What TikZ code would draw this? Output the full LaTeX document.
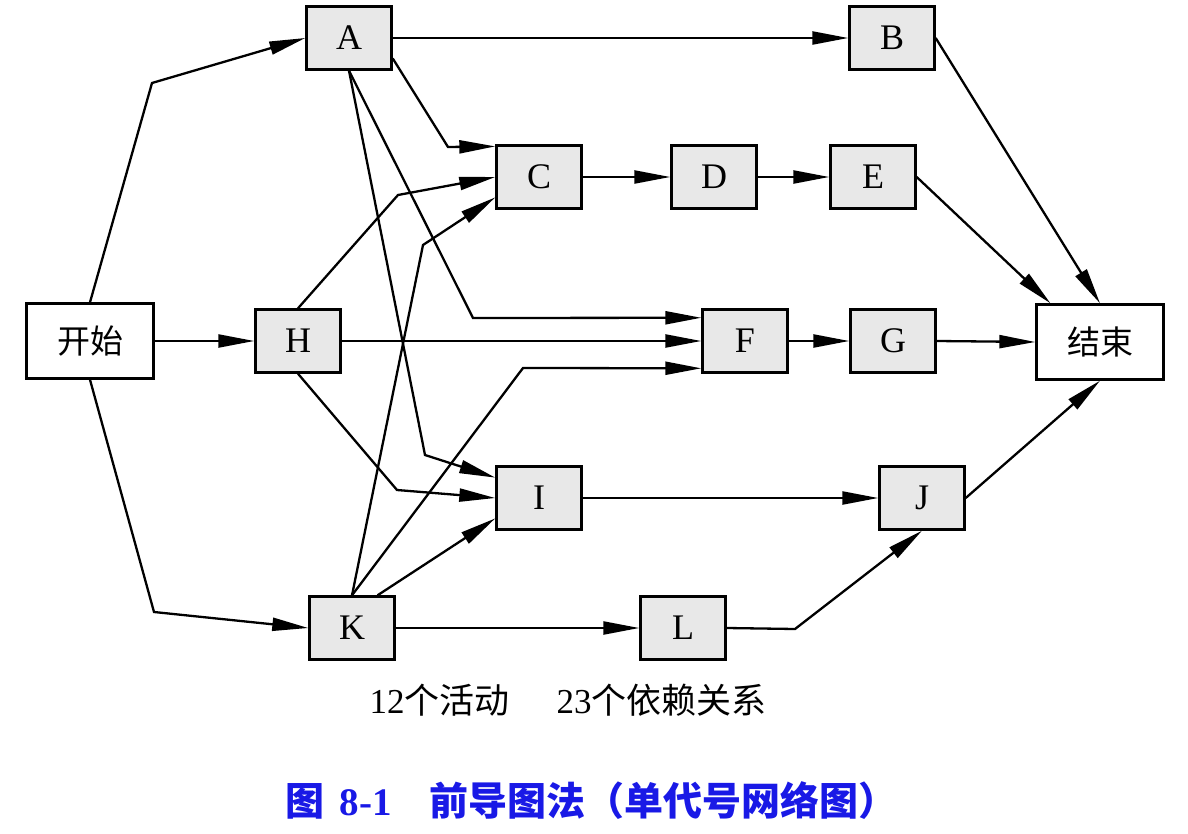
\documentclass[tikz,border=0pt]{standalone}
\usepackage{fontspec}
\setmainfont{Liberation Serif}
\newfontfamily\cjk{Noto Sans CJK SC}
\usetikzlibrary{arrows.meta}
\definecolor{capblue}{RGB}{25,25,230}

\begin{document}
\begin{tikzpicture}[x=1pt, y=-1pt, >={Triangle[length=36pt, width=13pt]},
    task/.style={draw, line width=2.4pt, fill=black!9, minimum width=85pt,
      minimum height=63pt, inner sep=0pt, font=\fontsize{36}{40}\selectfont},
    terminal/.style={draw, line width=2.4pt, fill=white, minimum width=127pt,
      minimum height=75pt, inner sep=0pt, font=\cjk\fontsize{33}{36}\selectfont},
    link/.style={line width=2.3pt, ->}]
  \useasboundingbox (0,0) rectangle (1188,834);

  \node (start) at (90,341) [terminal] {开始};
  \node (end) at (1100,342) [terminal] {结束};
  \node (A) at (349,38) [task] {A};
  \node (B) at (892,38) [task] {B};
  \node (C) at (539,177) [task] {C};
  \node (D) at (714,177) [task] {D};
  \node (E) at (873,177) [task] {E};
  \node (H) at (298,341) [task] {H};
  \node (F) at (745,341) [task] {F};
  \node (G) at (893,341) [task] {G};
  \node (I) at (539,498) [task] {I};
  \node (J) at (922,498) [task] {J};
  \node (K) at (352,628) [task] {K};
  \node (L) at (683,628) [task] {L};

  \draw [link] (start.north) -- (152,83) -- (A.west);
  \draw [link] (start.east) -- (H.west);
  \draw [link] (start.south) -- (154,612) -- (K.west);
  \draw [link] (A.east) -- (B.west);
  \draw [link] (A.-25) -- (448,147) -- (C.145);
  \draw [link] (A.south) -- (473,318) -- (F.152);
  \draw [link] (A.south) -- (425,455) -- (I.155);
  \draw [link] (H.north) -- (398,195) -- (C.west);
  \draw [link] (H.east) -- (F.west);
  \draw [link] (H.south) -- (397,490) -- (I.west);
  \draw [link] (K.north) -- (423,245) -- (C.205);
  \draw [link] (K.north) -- (523,368) -- (F.212);
  \draw [link] (K.52) -- (I.205);
  \draw [link] (K.east) -- (L.west);
  \draw [link] (C.east) -- (D.west);
  \draw [link] (D.east) -- (E.west);
  \draw [link] (E.east) -- (end.142);
  \draw [link] (B.east) -- (end.north);
  \draw [link] (F.east) -- (G.west);
  \draw [link] (G.east) -- (end.west);
  \draw [link] (I.east) -- (J.west);
  \draw [link] (L.east) -- (795,629) -- (J.south);
  \draw [link] (J.east) -- (end.south);

  \node (acts) at (366,700) [anchor=west, font=\fontsize{35}{38}\selectfont]
    {12{\cjk 个活动}};
  \node (deps) at (553,700) [anchor=west, font=\fontsize{35}{38}\selectfont]
    {23{\cjk 个依赖关系}};
  \node (caption) at (282,801) [anchor=west, text=capblue,
    font=\bfseries\fontsize{39}{42}\selectfont]
    {{\cjk\bfseries 图}\hspace{15pt}8-1\hspace{38pt}{\cjk\bfseries 前导图法（单代号网络图）}};
\end{tikzpicture}
\end{document}
